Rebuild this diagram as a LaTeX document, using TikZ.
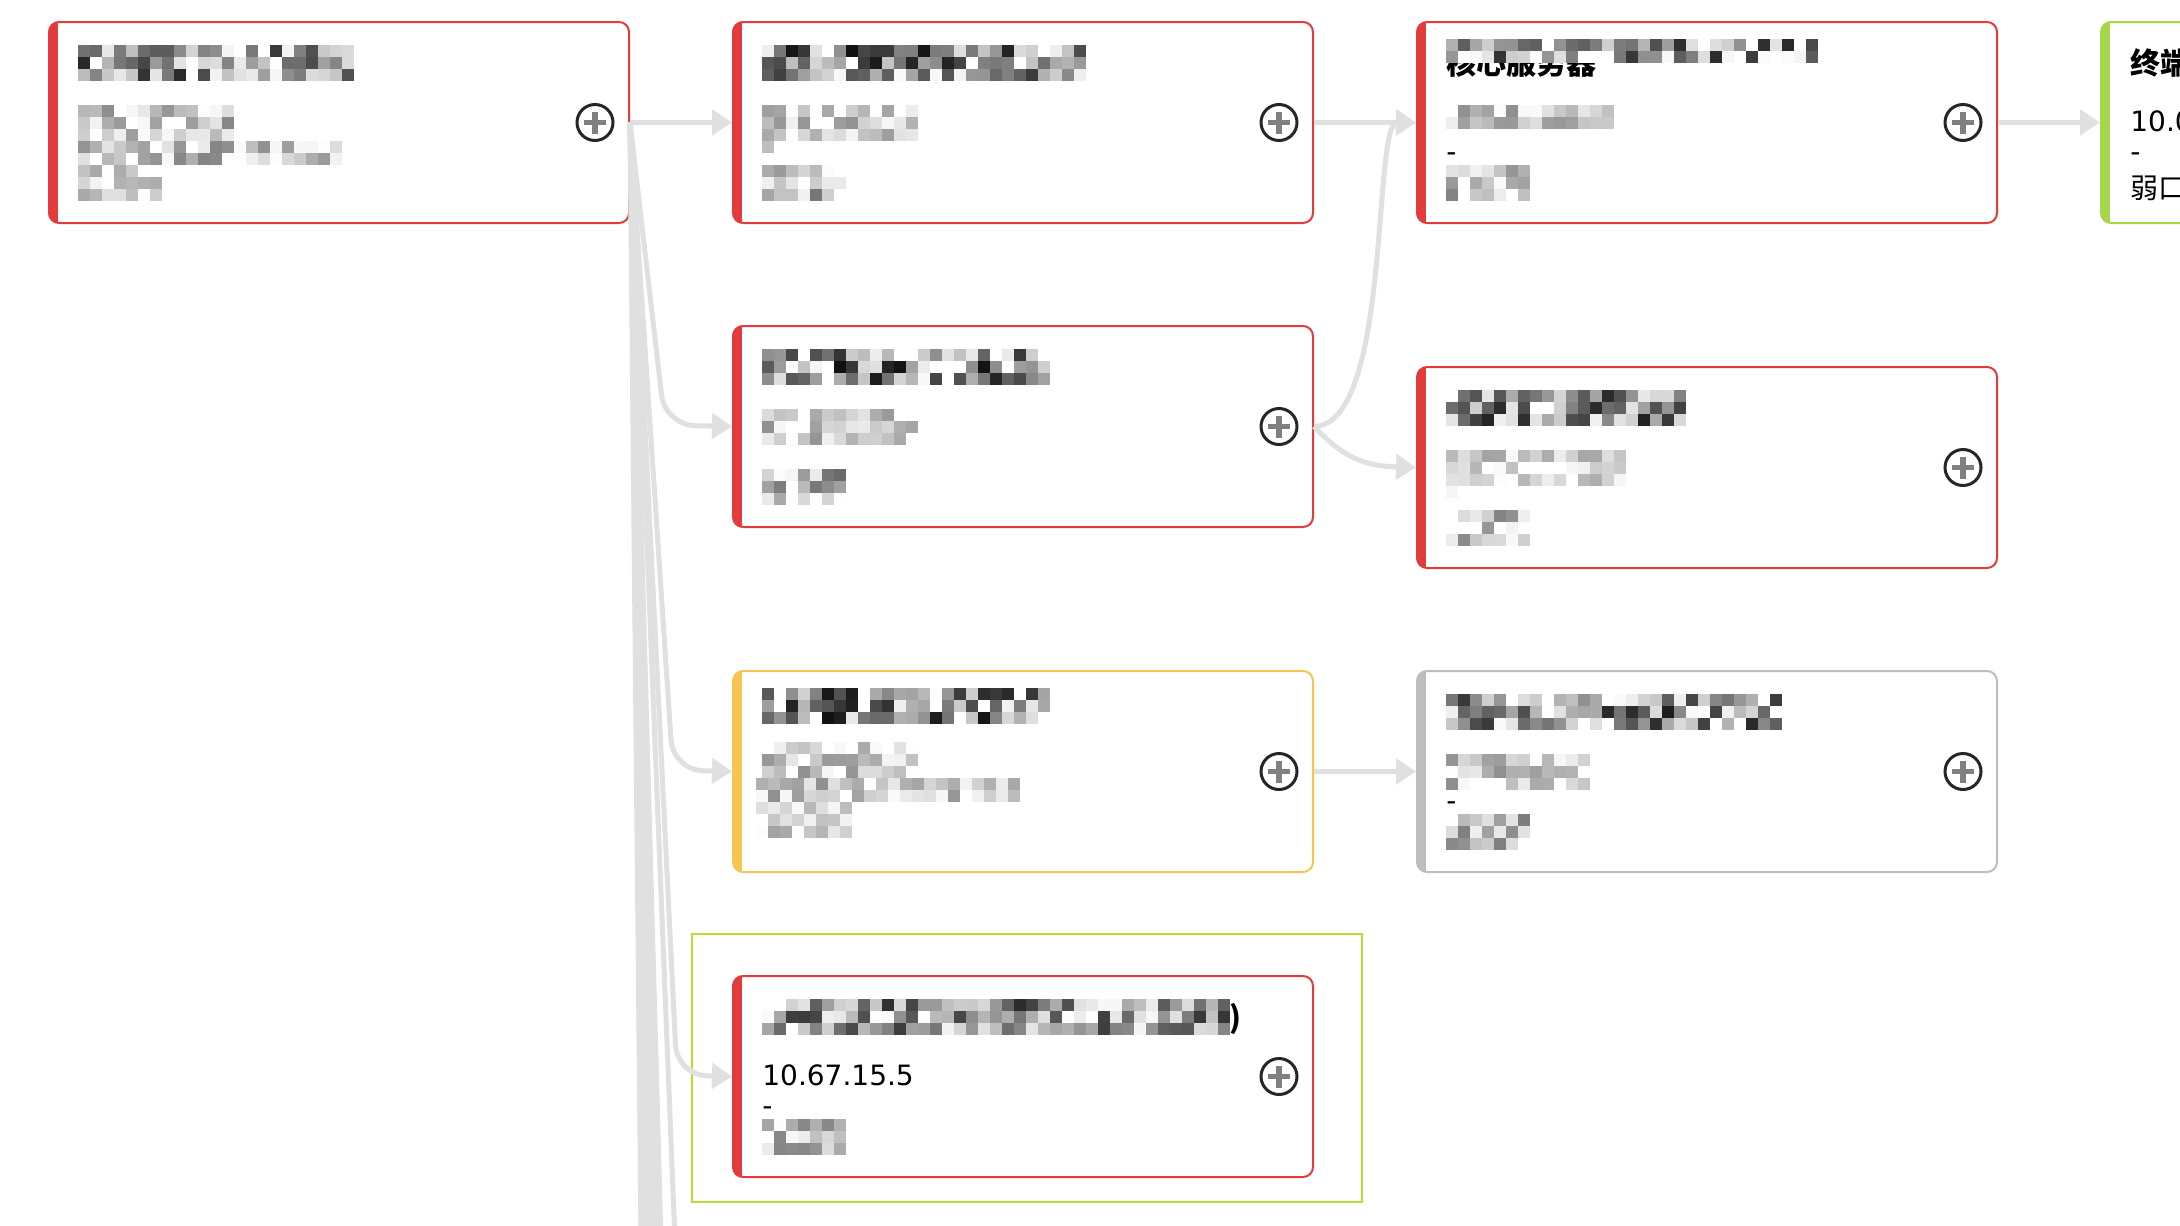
\documentclass[tikz,border=0pt]{standalone}
\usepackage{fontspec}
\setmainfont{DejaVu Sans}
\newfontfamily\cjkfont{Noto Sans CJK SC}
\usetikzlibrary{arrows.meta}
\definecolor{cardred}{HTML}{E13B3B}
\definecolor{cardyellow}{HTML}{F6C552}
\definecolor{cardgray}{HTML}{BDBDBD}
\definecolor{cardgreen}{HTML}{A6D64A}
\definecolor{framegreen}{HTML}{B5E02F}
\definecolor{linkgray}{HTML}{E0E0E0}
\tikzstyle{card}=[rectangle, anchor=north west, rounded corners=5pt, line width=1pt, minimum width=290pt, minimum height=100.5pt, inner sep=0pt, fill=white]
\tikzstyle{redcard}=[card, draw=cardred, path picture={\fill[cardred, sharp corners] (path picture bounding box.north west) rectangle ([xshift=4.5pt]path picture bounding box.south west);}]
\tikzstyle{yellowcard}=[card, draw=cardyellow, path picture={\fill[cardyellow, sharp corners] (path picture bounding box.north west) rectangle ([xshift=4.5pt]path picture bounding box.south west);}]
\tikzstyle{graycard}=[card, draw=cardgray, path picture={\fill[cardgray, sharp corners] (path picture bounding box.north west) rectangle ([xshift=4.5pt]path picture bounding box.south west);}]
\tikzstyle{greencard}=[card, draw=cardgreen, path picture={\fill[cardgreen, sharp corners] (path picture bounding box.north west) rectangle ([xshift=4.5pt]path picture bounding box.south west);}]
\tikzstyle{selbox}=[rectangle, anchor=north west, draw=framegreen, line width=1pt, minimum width=335pt, minimum height=134pt, inner sep=0pt]
\tikzstyle{plusicon}=[circle, draw=black!85, line width=1.5pt, fill=white, minimum size=18pt, inner sep=0pt, path picture={\draw[black!50, line width=2.6pt, sharp corners] ([xshift=-5.5pt]path picture bounding box.center) -- ([xshift=5.5pt]path picture bounding box.center) ([yshift=-5.5pt]path picture bounding box.center) -- ([yshift=5.5pt]path picture bounding box.center);}]
\tikzstyle{link}=[draw=linkgray, line width=2.5pt, -{Triangle[length=10pt,width=12.5pt]}]
\tikzstyle{fan}=[draw=linkgray, line width=2.5pt]
\tikzstyle{ttl}=[anchor=base west, inner sep=0pt, font=\fontsize{15pt}{18pt}\selectfont\cjkfont\bfseries]
\tikzstyle{txt}=[anchor=base west, inner sep=0pt, font=\fontsize{14pt}{16pt}\selectfont]
\tikzstyle{cjktxt}=[anchor=base west, inner sep=0pt, font=\fontsize{14pt}{16pt}\selectfont\cjkfont]
\newcommand{\pixrow}[6]{%
  \begin{scope}[shift={(#1.north west)}]
    \pgfmathtruncatemacro{\pxcols}{#4/12}
    \pgfmathtruncatemacro{\pxrows}{#5/12}
    \foreach \i in {1,...,\pxcols}{
      \foreach \j in {1,...,\pxrows}{
        \pgfmathsetmacro{\pxg}{max(0,rnd*(#6+12)-8)}
        \fill[black!\pxg] ({#2+(\i-1)*12},{#3+(\j-1)*12}) rectangle +(12,12);
      }
    }
  \end{scope}}

\begin{document}
\begin{tikzpicture}[x=0.5pt, y=-0.5pt]
    \pgfmathsetseed{11}
    \useasboundingbox (0,0) rectangle (2180,1226);
    \clip (0,0) rectangle (2180,1226);
    \fill[white] (0,0) rectangle (2180,1226);

    \node[selbox] (sel) at (691,933) {};

    \node[redcard] (n1) at (48,21) {};
    \node[redcard] (n2) at (732,21) {};
    \node[redcard] (n3) at (1416,21) {};
    \node[greencard] (n4) at (2100,21) {};
    \node[redcard] (n5) at (732,325) {};
    \node[redcard] (n6) at (1416,366) {};
    \node[yellowcard] (n7) at (732,670) {};
    \node[graycard] (n8) at (1416,670) {};
    \node[redcard] (n9) at (732,975) {};

    \node[plusicon] (p1) at ([xshift=-17.5pt]n1.east) {};
    \node[plusicon] (p2) at ([xshift=-17.5pt]n2.east) {};
    \node[plusicon] (p3) at ([xshift=-17.5pt]n3.east) {};
    \node[plusicon] (p5) at ([xshift=-17.5pt]n5.east) {};
    \node[plusicon] (p6) at ([xshift=-17.5pt]n6.east) {};
    \node[plusicon] (p7) at ([xshift=-17.5pt]n7.east) {};
    \node[plusicon] (p8) at ([xshift=-17.5pt]n8.east) {};
    \node[plusicon] (p9) at ([xshift=-17.5pt]n9.east) {};

    \coordinate (f1) at (641,1240);
    \coordinate (f2) at (645,1240);
    \coordinate (f3) at (649,1240);
    \coordinate (f4) at (653,1240);
    \coordinate (f5) at (657,1240);
    \coordinate (f6) at (661,1240);
    \coordinate (f7) at (675,1240);
    \draw[fan] (n1.east) -- (f1);
    \draw[fan] (n1.east) -- (f2);
    \draw[fan] (n1.east) -- (f3);
    \draw[fan] (n1.east) -- (f4);
    \draw[fan] (n1.east) -- (f5);
    \draw[fan] (n1.east) -- (f6);
    \draw[fan] (n1.east) -- (f7);

    \draw[link] (n1.east) -- (n2.west);
    \draw[link] (n2.east) -- (n3.west);
    \draw[link] (n3.east) -- (n4.west);
    \draw[link] (n7.east) -- (n8.west);
    \draw[link, rounded corners=15pt] (n1.east) -- (665,425) -- (n5.west);
    \draw[link, rounded corners=15pt] (n1.east) -- (673,770) -- (n7.west);
    \draw[link, rounded corners=15pt] (n1.east) -- (677,1075) -- (n9.west);
    \draw[link] (n5.east) .. controls (1392,425) and (1372,122) .. (n3.west);
    \draw[link] (n5.east) .. controls (1345,460) and (1368,466) .. (n6.west);

    \node[ttl] (t3) at ([shift={(15pt,-26.5pt)}]n3.north west) {核心服务器};
    \node[txt] (d3) at ([shift={(15pt,-70pt)}]n3.north west) {-};
    \node[ttl] (t4) at ([shift={(15pt,-26.5pt)}]n4.north west) {终端};
    \node[txt] (a4) at ([shift={(15pt,-55pt)}]n4.north west) {10.0};
    \node[txt] (d4) at ([shift={(15pt,-70pt)}]n4.north west) {-};
    \node[cjktxt] (b4) at ([shift={(15pt,-88.5pt)}]n4.north west) {弱口};
    \node[txt] (d8) at ([shift={(15pt,-70pt)}]n8.north west) {-};
    \node[ttl] (t9) at ([shift={(248.5pt,-26.5pt)}]n9.north west) {)};
    \node[txt] (a9) at ([shift={(15pt,-55pt)}]n9.north west) {10.67.15.5};
    \node[txt] (d9) at ([shift={(15pt,-70pt)}]n9.north west) {-};

    \pixrow{n1}{30}{24}{276}{36}{85}
    \pixrow{n1}{30}{84}{156}{36}{45}
    \pixrow{n1}{30}{120}{264}{24}{45}
    \pixrow{n1}{30}{144}{84}{36}{40}
    \pixrow{n2}{30}{24}{324}{36}{90}
    \pixrow{n2}{30}{84}{156}{36}{40}
    \pixrow{n2}{30}{120}{12}{12}{35}
    \pixrow{n2}{30}{144}{84}{36}{50}
    \pixrow{n3}{30}{18}{372}{24}{80}
    \pixrow{n3}{30}{84}{168}{24}{40}
    \pixrow{n3}{30}{144}{84}{36}{45}
    \pixrow{n5}{30}{24}{288}{36}{90}
    \pixrow{n5}{30}{84}{156}{36}{40}
    \pixrow{n5}{30}{144}{84}{36}{55}
    \pixrow{n6}{30}{24}{240}{36}{85}
    \pixrow{n6}{30}{84}{180}{36}{35}
    \pixrow{n6}{30}{120}{12}{12}{30}
    \pixrow{n6}{30}{144}{84}{36}{45}
    \pixrow{n7}{30}{18}{288}{36}{90}
    \pixrow{n7}{30}{72}{156}{36}{40}
    \pixrow{n7}{24}{108}{264}{24}{40}
    \pixrow{n7}{24}{132}{96}{36}{40}
    \pixrow{n8}{30}{24}{336}{36}{85}
    \pixrow{n8}{30}{84}{144}{36}{40}
    \pixrow{n8}{30}{144}{84}{36}{50}
    \pixrow{n9}{30}{24}{468}{36}{80}
    \pixrow{n9}{30}{144}{84}{36}{45}

  \end{tikzpicture}
\end{document}
